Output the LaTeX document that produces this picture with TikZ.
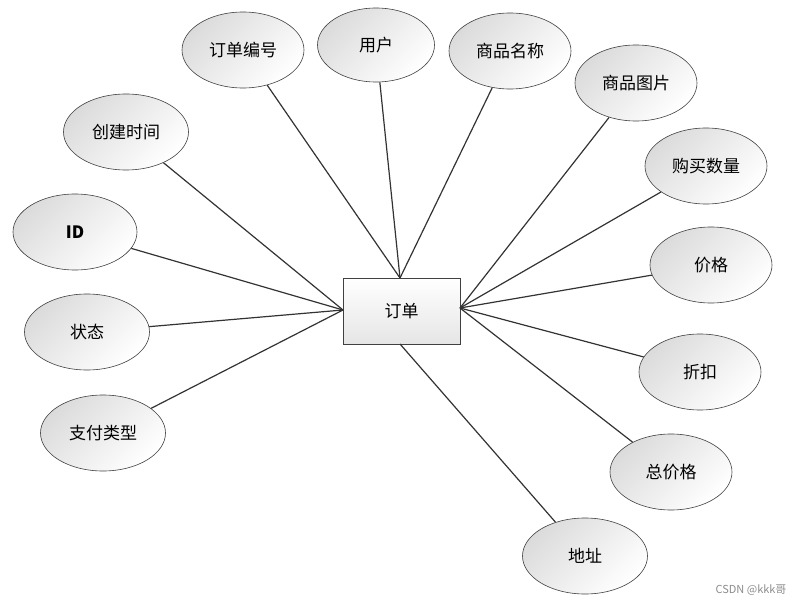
\documentclass[tikz,border=0pt]{standalone}
\usepackage{fontspec}
\setmainfont{Noto Sans CJK SC}
\usetikzlibrary{shapes.geometric}
\begin{document}
\begin{tikzpicture}[x=1pt,y=-1pt,
 attr/.style={ellipse,draw=black!75,line width=0.6pt,top color=white,bottom color=black!14,shading angle=-135,minimum width=122pt,minimum height=76pt,inner sep=0pt,font=\fontsize{17}{19}\selectfont},
 ent/.style={rectangle,draw=black!75,line width=0.6pt,top color=white,bottom color=black!10,minimum width=117pt,minimum height=66pt,font=\fontsize{17}{19}\selectfont},
 ln/.style={draw=black!80,line width=1.2pt}]
\useasboundingbox (0,0) rectangle (796,604);
\node[ent] (b) at (401.5,311) {订单};
\node[attr] (a1) at (243,50) {订单编号};
\node[attr,minimum width=117pt,minimum height=74pt] (a2) at (376,45) {用户};
\node[attr] (a3) at (510,51) {商品名称};
\node[attr] (a4) at (636,83) {商品图片};
\node[attr] (a5) at (706,166) {购买数量};
\node[attr] (a6) at (711,265) {价格};
\node[attr] (a7) at (700,372) {折扣};
\node[attr] (a8) at (671,472) {总价格};
\node[attr,minimum width=125pt] (a9) at (585,556) {地址};
\node[attr,minimum width=125pt] (a10) at (103,433) {支付类型};
\node[attr,minimum width=125pt] (a11) at (87,332) {状态};
\node[attr,minimum width=124pt] (a12) at (75,232) {\textbf{ID}};
\node[attr,minimum width=125pt] (a13) at (126,132) {创建时间};
\coordinate (t) at (400,278);
\coordinate (r) at (460,308);
\coordinate (l) at (343,310);
\coordinate (bt) at (400,344);
\draw[ln] (a1) -- (t);
\draw[ln] (a2) -- (t);
\draw[ln] (a3) -- (t);
\draw[ln] (a4) -- (r);
\draw[ln] (a5) -- (r);
\draw[ln] (a6) -- (r);
\draw[ln] (a7) -- (r);
\draw[ln] (a8) -- (r);
\draw[ln] (a9) -- (bt);
\draw[ln] (a10) -- (l);
\draw[ln] (a11) -- (l);
\draw[ln] (a12) -- (l);
\draw[ln] (a13) -- (l);
\node[text=black!45,font=\fontsize{11}{13}\selectfont,anchor=east] (wm) at (790,590) {CSDN @kkk哥};
\end{tikzpicture}
\end{document}
